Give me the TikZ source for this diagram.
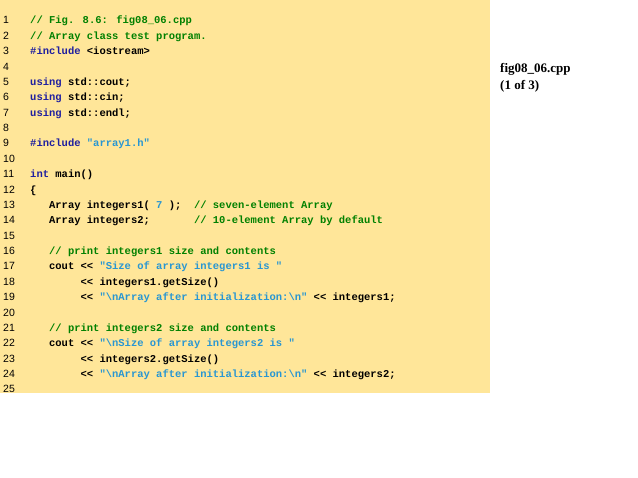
\documentclass[tikz,border=0pt]{standalone}
\usepackage{fontspec}
\setmainfont{Liberation Serif}
\newfontfamily\cmono{Liberation Mono}[Ligatures=ResetAll]
\newfontfamily\numf{Liberation Sans}
\definecolor{bgy}{RGB}{255,230,153}
\definecolor{cgreen}{RGB}{0,128,0}
\definecolor{ckey}{RGB}{30,30,160}
\definecolor{cstr}{RGB}{40,150,210}
\newcommand{\cm}[1]{\textcolor{cgreen}{#1}}
\newcommand{\kw}[1]{\textcolor{ckey}{#1}}
\newcommand{\st}[1]{\textcolor{cstr}{#1}}
\newcommand{\bs}{\textbackslash}
\begin{document}
\begin{tikzpicture}[x=1pt,y=-1pt,
  code/.style={anchor=base west,inner sep=0pt,font=\cmono\bfseries\fontsize{10.5}{12}\selectfont},
  num/.style={anchor=base west,inner sep=0pt,font=\numf\fontsize{10.5}{12}\selectfont}]
\useasboundingbox (0,0) rectangle (638,478);
\fill[bgy] (0,0) rectangle (490,393);
\foreach \i in {1,...,25}{\node[num] (n\i) at (3,{24+(\i-1)*15.375}) {\i};}
\def\L#1{{24+(#1-1)*15.375}}
\node[code] (l1) at (30,\L{1}) {\cm{// Fig. 8.6: fig08\_06.cpp}};
\node[code] (l2) at (30,\L{2}) {\cm{// Array class test program.}};
\node[code] (l3) at (30,\L{3}) {\kw{\#include} <iostream>};
\node[code] (l5) at (30,\L{5}) {\kw{using} std::cout;};
\node[code] (l6) at (30,\L{6}) {\kw{using} std::cin;};
\node[code] (l7) at (30,\L{7}) {\kw{using} std::endl;};
\node[code] (l9) at (30,\L{9}) {\kw{\#include} \st{"array1.h"}};
\node[code] (l11) at (30,\L{11}) {\kw{int} main()};
\node[code] (l12) at (30,\L{12}) {\{};
\node[code] (l13) at (30,\L{13}) {~~~Array integers1( \st{7} );~~\cm{// seven-element Array}};
\node[code] (l14) at (30,\L{14}) {~~~Array integers2;~~~~~~~\cm{// 10-element Array by default}};
\node[code] (l16) at (30,\L{16}) {~~~\cm{// print integers1 size and contents}};
\node[code] (l17) at (30,\L{17}) {~~~cout <{}< \st{"Size of array integers1 is "}};
\node[code] (l18) at (30,\L{18}) {~~~~~~~~<{}< integers1.getSize()};
\node[code] (l19) at (30,\L{19}) {~~~~~~~~<{}< \st{"\bs nArray after initialization:\bs n"} <{}< integers1;};
\node[code] (l21) at (30,\L{21}) {~~~\cm{// print integers2 size and contents}};
\node[code] (l22) at (30,\L{22}) {~~~cout <{}< \st{"\bs nSize of array integers2 is "}};
\node[code] (l23) at (30,\L{23}) {~~~~~~~~<{}< integers2.getSize()};
\node[code] (l24) at (30,\L{24}) {~~~~~~~~<{}< \st{"\bs nArray after initialization:\bs n"} <{}< integers2;};
\node[anchor=north west,inner sep=0pt,align=left,font=\bfseries\fontsize{13}{17}\selectfont] (side) at (500,63) {fig08\_06.cpp\\(1 of 3)};
\end{tikzpicture}
\end{document}
